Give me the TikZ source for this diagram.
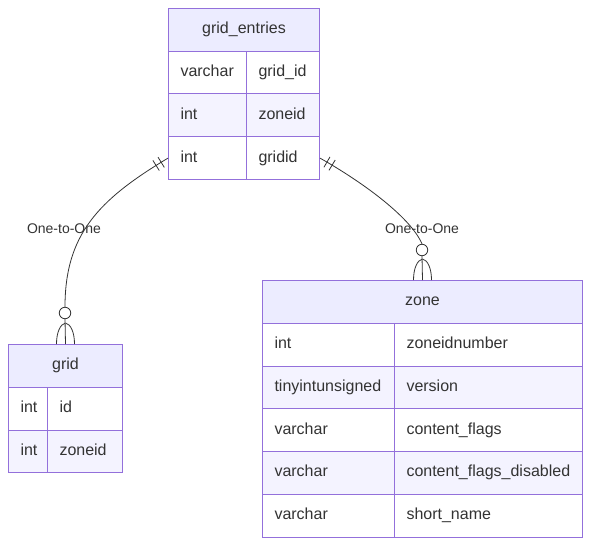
\documentclass[tikz,border=0pt]{standalone}
\usepackage{fontspec}
\setmainfont{Liberation Sans}
\usetikzlibrary{decorations.markings}
\definecolor{erborder}{HTML}{9370DB}
\definecolor{erhead}{HTML}{ECECFF}
\definecolor{errow}{HTML}{F4F3FF}
\definecolor{ertext}{HTML}{333333}
\tikzset{
  cell/.style={draw=erborder, line width=1pt, anchor=north west, minimum height=42.75pt,
    inner xsep=12pt, inner ysep=0pt, text height=11.5pt, text depth=3.5pt, align=left,
    text=ertext, font=\fontsize{16}{19}\selectfont},
  head/.style={cell, fill=erhead, align=center},
  rowodd/.style={cell, fill=white},
  roweven/.style={cell, fill=errow},
  link/.style={draw=ertext, line width=0.8pt},
  ring/.style={circle, draw=ertext, line width=0.8pt, fill=white, minimum size=11.5pt, inner sep=0pt},
  rel/.style={text=ertext, font=\fontsize{14}{17}\selectfont, inner sep=1pt},
  oneone/.style={postaction=decorate, decoration={markings,
    mark=at position 8pt with {\draw[link] (0,-6pt) -- (0,6pt);},
    mark=at position 14pt with {\draw[link] (0,-6pt) -- (0,6pt);}}}
}
\begin{document}
\begin{tikzpicture}[x=1pt, y=-1pt]
\useasboundingbox (0,0) rectangle (591,545);
% grid_entries
\node[head, text width=127pt] (geh) at (168,8) {grid\_entries};
\node[rowodd, text width=54pt] (ge1t) at (168,50.75) {varchar};
\node[rowodd, text width=49pt] (ge1n) at (246,50.75) {grid\_id};
\node[roweven, text width=54pt] (ge2t) at (168,93.5) {int};
\node[roweven, text width=49pt] (ge2n) at (246,93.5) {zoneid};
\node[rowodd, text width=54pt] (ge3t) at (168,136.25) {int};
\node[rowodd, text width=49pt] (ge3n) at (246,136.25) {gridid};
% grid
\node[head, text width=90pt] (gh) at (8,344) {grid};
\node[rowodd, text width=15pt] (g1t) at (8,386.75) {int};
\node[rowodd, text width=51pt] (g1n) at (47,386.75) {id};
\node[roweven, text width=15pt] (g2t) at (8,429.5) {int};
\node[roweven, text width=51pt] (g2n) at (47,429.5) {zoneid};
% zone
\node[head, text width=296pt] (zh) at (262,280) {zone};
\node[rowodd, text width=108pt] (z1t) at (262,322.75) {int};
\node[rowodd, text width=164pt] (z1n) at (394,322.75) {zoneidnumber};
\node[roweven, text width=108pt] (z2t) at (262,365.5) {tinyintunsigned};
\node[roweven, text width=164pt] (z2n) at (394,365.5) {version};
\node[rowodd, text width=108pt] (z3t) at (262,408.25) {varchar};
\node[rowodd, text width=164pt] (z3n) at (394,408.25) {content\_flags};
\node[roweven, text width=108pt] (z4t) at (262,451) {varchar};
\node[roweven, text width=164pt] (z4n) at (394,451) {content\_flags\_disabled};
\node[rowodd, text width=108pt] (z5t) at (262,493.75) {varchar};
\node[rowodd, text width=164pt] (z5n) at (394,493.75) {short\_name};
% grid_entries -- grid
\node[ring] (gring) at (65,313) {};
\draw[link, oneone] (ge3t.west) .. controls (98,200) and (65,235) .. (gring.north);
\draw[link] (gring.south) -- (gh.north);
\begin{scope}[shift={(gh.north)}]
\draw[link] (-9,0) .. controls (-9,-12) and (-5,-20) .. (0,-21);
\draw[link] (9,0) .. controls (9,-12) and (5,-20) .. (0,-21);
\end{scope}
\node[rel] (lgrid) at (64,229) {One-to-One};
% grid_entries -- zone
\node[ring] (zring) at (422,250) {};
\draw[link, oneone] (ge3n.east) .. controls (359,180) and (410,216) .. (zring.north);
\draw[link] (zring.south) -- (zh.north);
\begin{scope}[shift={(zh.north)}]
\draw[link] (-9,0) .. controls (-9,-12) and (-5,-20) .. (0,-21);
\draw[link] (9,0) .. controls (9,-12) and (5,-20) .. (0,-21);
\end{scope}
\node[rel] (lzone) at (422,229) {One-to-One};
\end{tikzpicture}
\end{document}
